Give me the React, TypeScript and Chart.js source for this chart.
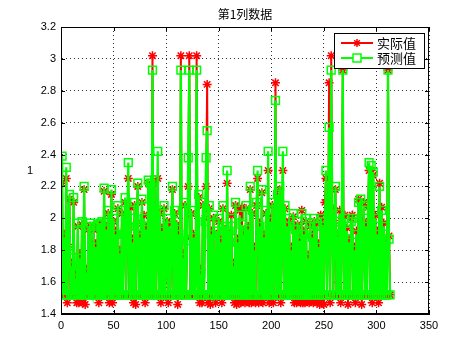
import React, { useEffect, useRef } from "react";
import { Chart, registerables } from "chart.js";

Chart.register(...registerables);

const TITLE = "第1列数据";
const Y_LABEL = "1";
const SERIES_NAMES = ["实际值", "预测值"];
const X_TICKS = [0, 50, 100, 150, 200, 250, 300, 350];
const Y_TICKS = [1.4, 1.6, 1.8, 2.0, 2.2, 2.4, 2.6, 2.8, 3.0, 3.2];

const ACTUAL = [
  2.22, 1.52, 1.9, 1.52, 2.25, 1.47, 1.82, 2.12, 1.52, 1.72,
  1.52, 2.1, 1.52, 1.65, 1.47, 1.95, 1.47, 1.78, 1.52, 1.96,
  1.47, 2.18, 1.46, 1.68, 1.52, 1.93, 1.52, 1.95, 1.53, 1.52,
  1.93, 1.52, 1.84, 1.52, 1.95, 1.47, 1.96, 1.52, 1.96, 1.52,
  2.17, 1.52, 1.95, 1.52, 2.03, 1.47, 1.62, 2.15, 1.47, 1.98,
  1.52, 1.92, 1.52, 2.06, 1.52, 1.8, 1.52, 2.03, 1.52, 1.92,
  2.1, 1.52, 1.96, 2.25, 1.52, 2.07, 1.52, 1.87, 1.47, 2.08,
  1.46, 1.97, 2.2, 1.52, 1.9, 1.52, 2.1, 1.52, 2.02, 1.47,
  1.95, 1.52, 2.22, 1.52, 2.2, 1.52, 3.02, 1.52, 2.22, 1.52,
  1.82, 2.25, 1.52, 2.03, 1.47, 1.94, 1.52, 2.06, 1.52, 1.72,
  1.98, 1.47, 1.97, 1.52, 1.8, 2.18, 1.52, 2.03, 1.52, 1.96,
  1.46, 1.92, 1.52, 3.02, 1.52, 1.78, 1.52, 2.08, 1.52, 1.88,
  2.2, 3.02, 1.52, 2.03, 1.52, 1.9, 1.52, 1.62, 3.02, 1.52,
  2.13, 1.47, 1.68, 1.47, 2.08, 1.52, 2.0, 2.2, 2.84, 1.47,
  2.06, 1.46, 1.92, 1.52, 2.0, 1.52, 1.47, 1.9, 1.52, 1.98,
  1.52, 1.87, 1.47, 2.06, 1.52, 1.93, 1.52, 2.22, 1.52, 1.9,
  1.52, 2.02, 1.52, 1.72, 1.47, 2.08, 1.46, 1.87, 1.47, 2.05,
  1.47, 2.07, 1.48, 1.92, 1.47, 2.06, 1.52, 1.95, 1.47, 2.18,
  1.47, 2.03, 1.48, 1.82, 1.47, 2.08, 2.25, 1.47, 1.97, 1.48,
  2.16, 1.47, 1.9, 1.52, 2.03, 1.52, 2.3, 1.47, 2.0, 1.52,
  2.08, 1.47, 1.64, 2.85, 1.52, 2.13, 1.52, 2.18, 1.47, 1.92,
  2.3, 1.52, 2.06, 1.52, 1.97, 1.52, 1.98, 1.52, 1.82, 1.52,
  2.01, 1.47, 1.95, 1.47, 1.96, 1.48, 1.88, 1.47, 2.05, 1.47,
  1.92, 1.47, 1.98, 1.48, 1.77, 1.47, 1.95, 1.48, 1.9, 1.47,
  1.98, 1.48, 1.97, 1.47, 1.84, 1.46, 2.02, 1.47, 1.97, 1.46,
  2.1, 2.25, 1.52, 1.87, 2.85, 1.47, 3.02, 2.07, 1.52, 1.97,
  2.18, 1.52, 1.9, 1.52, 2.05, 1.47, 1.92, 2.93, 1.52, 2.02,
  1.52, 1.94, 1.46, 1.87, 1.52, 2.0, 2.02, 1.52, 1.82, 1.47,
  1.92, 1.52, 2.12, 1.52, 2.1, 1.46, 1.9, 2.1, 1.52, 1.97,
  1.52, 2.07, 2.3, 1.52, 2.3, 1.47, 2.27, 1.52, 2.02, 1.52,
  1.92, 1.47, 2.22, 1.52, 2.07, 1.52, 1.97, 1.52, 1.87, 1.52,
  2.93, 1.89, 1.52,
];

const PREDICTED = [
  2.39, 1.52, 1.88, 1.52, 2.32, 1.52, 1.8, 2.15, 1.52, 1.7,
  1.52, 2.13, 1.52, 1.62, 1.53, 1.97, 1.52, 1.75, 1.52, 1.98,
  1.52, 2.2, 1.52, 1.66, 1.52, 1.95, 1.52, 1.97, 1.55, 1.52,
  1.95, 1.52, 1.82, 1.52, 1.96, 1.52, 1.97, 1.52, 1.98, 1.52,
  2.19, 1.52, 1.93, 1.52, 2.05, 1.52, 1.6, 2.18, 1.52, 2.0,
  1.52, 1.9, 1.52, 2.08, 1.52, 1.78, 1.52, 2.05, 1.52, 1.9,
  2.13, 1.52, 1.98, 2.35, 1.52, 2.05, 1.52, 1.85, 1.52, 2.1,
  1.52, 1.95, 2.22, 1.52, 1.88, 1.52, 2.12, 1.52, 2.0, 1.52,
  1.93, 1.52, 2.24, 1.52, 2.22, 1.52, 2.93, 1.52, 2.24, 1.52,
  1.8, 2.42, 1.52, 2.05, 1.52, 1.92, 1.52, 2.08, 1.52, 1.7,
  2.0, 1.52, 1.95, 1.52, 1.82, 2.2, 1.52, 2.05, 1.52, 1.98,
  1.52, 1.9, 1.52, 2.93, 1.52, 1.75, 1.52, 2.1, 1.52, 1.86,
  2.38, 2.93, 1.52, 2.05, 1.52, 1.88, 1.52, 1.6, 2.93, 1.52,
  2.15, 1.52, 1.65, 1.52, 2.1, 1.52, 1.98, 2.38, 2.55, 1.52,
  2.08, 1.52, 1.9, 1.52, 2.02, 1.52, 1.55, 1.92, 1.52, 2.0,
  1.52, 1.85, 1.52, 2.08, 1.52, 1.95, 1.52, 2.3, 1.52, 1.92,
  1.52, 2.0, 1.52, 1.7, 1.52, 2.1, 1.52, 1.85, 1.52, 2.02,
  1.52, 1.96, 1.52, 1.9, 1.52, 2.08, 1.52, 1.93, 1.52, 2.2,
  1.52, 2.05, 1.52, 1.8, 1.52, 2.1, 2.3, 1.52, 1.95, 1.52,
  2.18, 1.52, 1.88, 1.52, 2.05, 1.52, 2.42, 1.52, 1.98, 1.52,
  2.1, 1.52, 1.62, 2.74, 1.52, 2.15, 1.52, 2.2, 1.52, 1.9,
  2.42, 1.52, 2.08, 1.52, 1.95, 1.52, 2.0, 1.52, 1.8, 1.52,
  2.03, 1.52, 1.93, 1.52, 1.98, 1.52, 1.86, 1.52, 2.03, 1.52,
  1.9, 1.52, 2.0, 1.52, 1.75, 1.52, 1.97, 1.52, 1.88, 1.52,
  2.0, 1.52, 1.95, 1.52, 1.82, 1.52, 2.0, 1.52, 1.95, 1.52,
  1.98, 2.3, 1.52, 1.85, 2.57, 1.52, 2.93, 2.05, 1.52, 1.95,
  2.2, 1.52, 1.88, 1.52, 2.03, 1.52, 1.9, 2.93, 1.52, 2.0,
  1.52, 1.92, 1.52, 1.85, 1.52, 1.98, 2.0, 1.52, 1.8, 1.52,
  1.9, 1.52, 2.1, 1.52, 2.12, 1.52, 1.88, 2.08, 1.52, 1.95,
  1.52, 2.05, 2.35, 1.52, 2.33, 1.52, 2.29, 1.52, 2.0, 1.52,
  1.9, 1.52, 2.2, 1.52, 2.05, 1.52, 1.95, 1.52, 1.85, 1.52,
  2.93, 1.87, 1.52,
];

const RED = "#ff0000";
const GREEN = "#00ff00";
const CJK = '"Noto Sans CJK SC", "Liberation Sans", sans-serif';
const SANS = '"Liberation Sans", Arial, sans-serif';

function drawStar(ctx: CanvasRenderingContext2D, x: number, y: number, r: number) {
  ctx.beginPath();
  ctx.moveTo(x - r, y);
  ctx.lineTo(x + r, y);
  ctx.moveTo(x, y - r);
  ctx.lineTo(x, y + r);
  const d = r * Math.SQRT1_2;
  ctx.moveTo(x - d, y - d);
  ctx.lineTo(x + d, y + d);
  ctx.moveTo(x - d, y + d);
  ctx.lineTo(x + d, y - d);
  ctx.stroke();
}

const matlabPlugin = {
  id: "matlabDecor",
  afterDraw(chart: any) {
    const ctx: CanvasRenderingContext2D = chart.ctx;
    const { left, right, top, bottom } = chart.chartArea;
    const xs = chart.scales.x;
    const ys = chart.scales.y;
    ctx.save();
    ctx.setLineDash([]);
    ctx.strokeStyle = "#000";
    ctx.lineWidth = 1;
    ctx.strokeRect(Math.round(left) + 0.5, Math.round(top) + 0.5, Math.round(right - left) - 1, Math.round(bottom - top) - 1);
    ctx.beginPath();
    X_TICKS.forEach((v) => {
      const px = Math.round(xs.getPixelForValue(v)) + 0.5;
      ctx.moveTo(px, bottom);
      ctx.lineTo(px, bottom - 4);
      ctx.moveTo(px, top);
      ctx.lineTo(px, top + 4);
    });
    Y_TICKS.forEach((v) => {
      const py = Math.round(ys.getPixelForValue(v)) + 0.5;
      ctx.moveTo(left, py);
      ctx.lineTo(left + 4, py);
      ctx.moveTo(right, py);
      ctx.lineTo(right - 4, py);
    });
    ctx.stroke();

    ctx.fillStyle = "#000";
    ctx.font = `12px ${CJK}`;
    ctx.textAlign = "center";
    ctx.textBaseline = "middle";
    ctx.fillText(TITLE, (left + right) / 2, 14);

    ctx.font = `11px ${SANS}`;
    ctx.fillText(Y_LABEL, 30, (top + bottom) / 2);

    const lx = 334, ly = 33, lw = 90, lh = 35;
    ctx.fillStyle = "#fff";
    ctx.fillRect(lx, ly, lw, lh);
    ctx.strokeStyle = "#000";
    ctx.lineWidth = 1;
    ctx.strokeRect(lx + 0.5, ly + 0.5, lw, lh);

    const rows = [ly + 10, ly + 25];
    ctx.strokeStyle = RED;
    ctx.lineWidth = 2;
    ctx.beginPath();
    ctx.moveTo(341, rows[0]);
    ctx.lineTo(373, rows[0]);
    ctx.stroke();
    ctx.lineWidth = 1.5;
    drawStar(ctx, 357, rows[0], 4);
    ctx.strokeStyle = GREEN;
    ctx.lineWidth = 2;
    ctx.beginPath();
    ctx.moveTo(341, rows[1]);
    ctx.lineTo(373, rows[1]);
    ctx.stroke();
    ctx.fillStyle = "#fff";
    ctx.lineWidth = 1.5;
    ctx.fillRect(353, rows[1] - 4, 8, 8);
    ctx.strokeRect(353, rows[1] - 4, 8, 8);

    ctx.fillStyle = "#000";
    ctx.font = `13px ${CJK}`;
    ctx.textAlign = "left";
    ctx.textBaseline = "middle";
    ctx.fillText(SERIES_NAMES[0], 377, rows[0]);
    ctx.fillText(SERIES_NAMES[1], 377, rows[1]);
    ctx.restore();
  },
};

export default function App() {
  const ref = useRef<HTMLCanvasElement | null>(null);

  useEffect(() => {
    document.body.style.margin = "0";
    const canvas = ref.current;
    if (!canvas) return;
    const actualPts = ACTUAL.map((v, i) => ({ x: i + 1, y: v }));
    const predPts = PREDICTED.map((v, i) => ({ x: i + 1, y: v }));
    const chart = new Chart(canvas, {
      type: "line",
      data: {
        datasets: [
          {
            label: SERIES_NAMES[0],
            data: actualPts,
            borderColor: RED,
            backgroundColor: "rgba(0,0,0,0)",
            borderWidth: 2,
            pointStyle: "star",
            pointRadius: 4.5,
            pointBorderWidth: 1.5,
            pointBorderColor: RED,
            pointBackgroundColor: "rgba(0,0,0,0)",
            tension: 0,
            order: 1,
          },
          {
            label: SERIES_NAMES[1],
            data: predPts,
            borderColor: GREEN,
            backgroundColor: "rgba(0,0,0,0)",
            borderWidth: 2.2,
            pointStyle: "rect",
            pointRadius: 5.5,
            pointBorderWidth: 1.5,
            pointBorderColor: GREEN,
            pointBackgroundColor: "rgba(0,0,0,0)",
            tension: 0,
            order: 0,
          },
        ],
      },
      options: {
        responsive: false,
        animation: false,
        events: [],
        layout: { padding: { top: 27, right: 45, left: 0, bottom: 0 } },
        plugins: {
          legend: { display: false },
          title: { display: false },
          tooltip: { enabled: false },
        },
        scales: {
          x: {
            type: "linear",
            min: 0,
            max: 350,
            afterFit: (s: any) => {
              s.height = 40;
            },
            afterBuildTicks: (s: any) => {
              s.ticks = X_TICKS.map((v) => ({ value: v }));
            },
            ticks: {
              padding: 5,
              color: "#000",
              font: { family: SANS, size: 11 },
              maxRotation: 0,
              callback: (v: any) => String(v),
            },
            grid: { color: "#333", lineWidth: 1, drawTicks: false },
            border: { display: true, color: "#000", dash: [1, 3] },
          },
          y: {
            type: "linear",
            min: 1.4,
            max: 3.2,
            afterFit: (s: any) => {
              s.width = 61;
            },
            afterBuildTicks: (s: any) => {
              s.ticks = Y_TICKS.map((v) => ({ value: v }));
            },
            ticks: {
              padding: 5,
              color: "#000",
              font: { family: SANS, size: 11 },
              callback: (v: any) => String(Math.round(Number(v) * 10) / 10),
            },
            grid: { color: "#333", lineWidth: 1, drawTicks: false },
            border: { display: true, color: "#000", dash: [1, 3] },
          },
        },
      },
      plugins: [matlabPlugin],
    });
    return () => chart.destroy();
  }, []);

  return (
    <div style={{ position: "absolute", left: 0, top: 0, width: 474, height: 354, background: "#fff" }}>
      <canvas ref={ref} width={474} height={354} />
    </div>
  );
}
